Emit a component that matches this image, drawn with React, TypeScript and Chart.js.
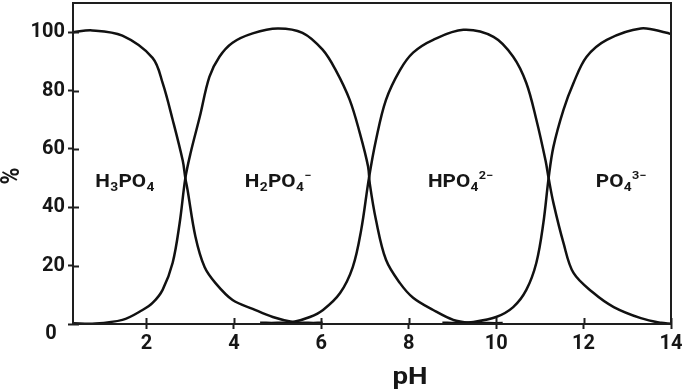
import { useEffect, useRef } from "react";
import { Chart, registerables } from "chart.js";

Chart.register(...registerables);

// pH (x) and percentage (y)
const h3po4X = [0.32, 0.76, 1.45, 2.14, 2.37, 2.6, 2.83, 2.89, 2.94, 3.12, 3.33, 3.58, 3.97, 4.43, 4.89, 5.35, 5.7, 6.03];
const h3po4Y = [100, 100.6, 98.8, 91.2, 82.6, 70, 56, 50, 46, 30, 19.5, 14, 8.2, 5.2, 2.4, 0.7, 0.4, 0.4];

const h2po4X = [0.32, 0.76, 1.45, 1.91, 2.14, 2.37, 2.6, 2.76, 2.89, 3.01, 3.22, 3.44, 3.67, 3.97, 4.43, 5.0, 5.57, 6.03, 6.33, 6.65, 6.88, 7.07, 7.11, 7.25, 7.48, 7.8, 8.1, 8.56, 9.02, 9.4, 9.8, 10.15];
const h2po4Y = [0.3, 0.1, 1.4, 4.8, 7.2, 11.7, 21, 34.6, 50, 58.6, 71, 84.7, 91.6, 96.4, 99.6, 101.3, 99.8, 94, 87, 76.8, 65.5, 54, 48, 35.7, 22, 14, 9, 4.8, 1.4, 0.4, 0.3, 0.3];

const hpo4X = [4.6, 5.0, 5.35, 5.74, 6.04, 6.43, 6.72, 6.91, 7.09, 7.25, 7.48, 7.8, 8.1, 8.56, 9.25, 9.94, 10.39, 10.69, 10.92, 11.13, 11.2, 11.31, 11.54, 11.77, 12.23, 12.69, 13.31, 13.77, 14];
const hpo4Y = [0.4, 0.4, 0.7, 2.4, 4.8, 10.6, 19.5, 32, 50, 63, 76.8, 87, 93, 97.4, 100.8, 98.4, 91.6, 82.6, 70, 56, 50, 41.5, 27.8, 17.5, 10.6, 5.8, 2, 0.4, 0.1];

const po4X = [8.77, 9.1, 9.48, 10.0, 10.39, 10.69, 10.92, 11.08, 11.2, 11.31, 11.54, 11.77, 12.07, 12.53, 13.31, 13.9, 14];
const po4Y = [0.4, 0.4, 0.7, 2.4, 5.8, 11.7, 21, 34.6, 50, 60.7, 73.4, 82.6, 91.6, 97.4, 101.3, 99.8, 99.3];

const xTitle = "pH";
const yTitle = "%";

type Part = { t: string; k: "n" | "sub" | "sup" };
const speciesLabels: { parts: Part[]; x: number; y: number }[] = [
  { parts: [{ t: "H", k: "n" }, { t: "3", k: "sub" }, { t: "PO", k: "n" }, { t: "4", k: "sub" }], x: 0.83, y: 47 },
  { parts: [{ t: "H", k: "n" }, { t: "2", k: "sub" }, { t: "PO", k: "n" }, { t: "4", k: "sub" }, { t: "−", k: "sup" }], x: 4.25, y: 47 },
  { parts: [{ t: "HPO", k: "n" }, { t: "4", k: "sub" }, { t: "2−", k: "sup" }], x: 8.44, y: 47 },
  { parts: [{ t: "PO", k: "n" }, { t: "4", k: "sub" }, { t: "3−", k: "sup" }], x: 12.28, y: 47 },
];

const AXIS = "#1e1e1e";
const TEXT = "#161616";
const FONT = "Roboto, 'Liberation Sans', Arial, sans-serif";
const STRETCH = 1.15;

const framePlugin = {
  id: "frame",
  afterDraw(chart: any) {
    const { ctx, chartArea: a, scales } = chart;
    const xs = scales.x;
    const ys = scales.y;
    ctx.save();
    ctx.strokeStyle = AXIS;
    ctx.lineWidth = 2;
    ctx.strokeRect(a.left, a.top, a.right - a.left, a.bottom - a.top);
    ctx.beginPath();
    ys.ticks.forEach((t: any) => {
      const py = Math.round(ys.getPixelForValue(t.value)) + 0.5;
      ctx.moveTo(a.left, py);
      ctx.lineTo(a.left + 6, py);
    });
    xs.ticks.forEach((t: any) => {
      const px = Math.round(xs.getPixelForValue(t.value)) + 0.5;
      ctx.moveTo(px, a.bottom);
      ctx.lineTo(px, a.bottom - 6);
    });
    ctx.stroke();

    ctx.fillStyle = TEXT;
    const stretched = (text: string, x: number, y: number) => {
      ctx.save();
      ctx.translate(x, y);
      ctx.scale(STRETCH, 1);
      ctx.fillText(text, 0, 0);
      ctx.restore();
    };

    ctx.font = `bold 20px ${FONT}`;
    ctx.textAlign = "center";
    ctx.textBaseline = "middle";
    ctx.fillText("0", a.left - 22, a.bottom + 10);

    ctx.font = `bold 24px ${FONT}`;
    ctx.textBaseline = "alphabetic";
    stretched(xTitle, xs.getPixelForValue(8.03), 384);
    ctx.save();
    ctx.translate(12, ys.getPixelForValue(50) - 2);
    ctx.rotate(-Math.PI / 2);
    ctx.scale(1, STRETCH);
    ctx.font = `bold 23px ${FONT}`;
    ctx.textBaseline = "middle";
    ctx.fillText(yTitle, 0, 0);
    ctx.restore();

    ctx.textAlign = "left";
    ctx.textBaseline = "alphabetic";
    speciesLabels.forEach((lab) => {
      let px = xs.getPixelForValue(lab.x);
      const base = ys.getPixelForValue(lab.y);
      lab.parts.forEach((p) => {
        let dy = 0;
        if (p.k === "n") ctx.font = `bold 18px ${FONT}`;
        else if (p.k === "sub") { ctx.font = `bold 12px ${FONT}`; dy = 4; }
        else { ctx.font = `bold 11px ${FONT}`; dy = -8; }
        stretched(p.t, px, base + dy);
        px += (ctx.measureText(p.t).width + 0.3) * STRETCH;
      });
    });
    ctx.restore();
  },
};

export default function App() {
  const ref = useRef<HTMLCanvasElement>(null);
  useEffect(() => {
    const canvas = ref.current!;
    const pts = (xs: number[], ys: number[]) => xs.map((x, i) => ({ x, y: ys[i] }));
    const ds = (label: string, xs: number[], ys: number[]) => ({
      label,
      data: pts(xs, ys),
      borderColor: "#111",
      borderWidth: 2.5,
      pointRadius: 0,
      fill: false,
      tension: 0.35,
    });
    const tickFont = { family: FONT, size: 20, weight: "bold" as const };
    const chart = new Chart(canvas, {
      type: "line",
      data: {
        datasets: [
          ds("H3PO4", h3po4X, h3po4Y),
          ds("H2PO4-", h2po4X, h2po4Y),
          ds("HPO4 2-", hpo4X, hpo4Y),
          ds("PO4 3-", po4X, po4Y),
        ],
      },
      options: {
        responsive: false,
        animation: false,
        layout: { padding: { top: 3, right: 14, left: 0, bottom: 0 } },
        plugins: { legend: { display: false }, tooltip: { enabled: false } },
        scales: {
          x: {
            type: "linear",
            min: 0.32,
            max: 14,
            ticks: { stepSize: 2, includeBounds: false, font: tickFont, color: TEXT, padding: 3, maxRotation: 0, autoSkip: false },
            grid: { drawOnChartArea: false, tickLength: 5, tickColor: AXIS, tickWidth: 2 },
            border: { display: false },
            afterFit: (s: any) => { s.height = 68; s.paddingLeft = 0; s.paddingRight = 0; },
          },
          y: {
            type: "linear",
            min: 0,
            max: 110,
            ticks: {
              stepSize: 20,
              includeBounds: false,
              font: tickFont,
              color: TEXT,
              padding: 3,
              callback: (v: any) => (v === 0 ? "" : String(v)),
            },
            grid: { drawOnChartArea: false, tickLength: 5, tickColor: AXIS, tickWidth: 2 },
            border: { display: false },
            afterFit: (s: any) => { s.width = 73; s.paddingTop = 0; s.paddingBottom = 0; },
          },
        },
      },
      plugins: [framePlugin],
    });
    return () => chart.destroy();
  }, []);
  return (
    <div style={{ position: "absolute", left: 0, top: 0, width: 685, height: 392, background: "#fff" }}>
      <canvas ref={ref} width={685} height={392} style={{ display: "block" }} />
    </div>
  );
}
